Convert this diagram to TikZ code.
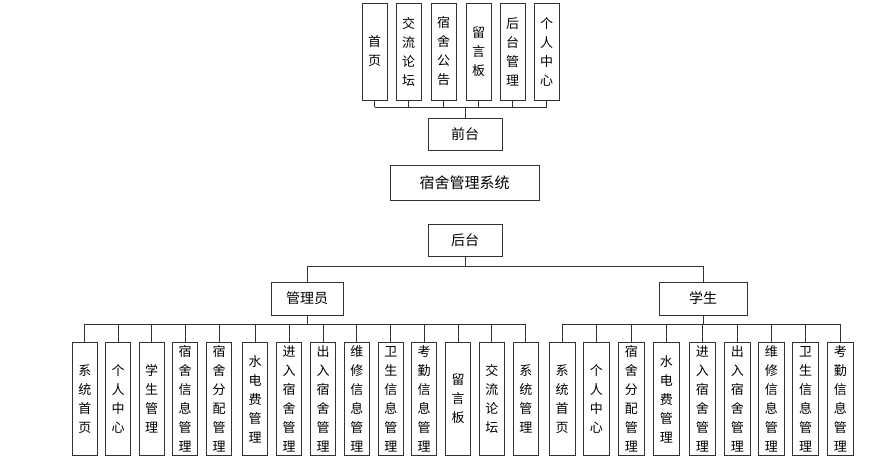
\documentclass[tikz,border=0pt]{standalone}
\usepackage{fontspec}
\newfontfamily\cjk{Noto Sans CJK SC}
\begin{document}
\begin{tikzpicture}[x=1pt,y=-1pt,
  box/.style={draw=black!80,line width=0.9pt,fill=white,inner sep=0pt,align=center,font=\cjk\fontsize{13}{19}\selectfont},
  leaf/.style={box,minimum width=25pt,minimum height=113pt},
  top/.style={box,minimum width=25pt,minimum height=97pt},
  conn/.style={draw=black!80,line width=0.9pt}]
\useasboundingbox (0,0) rectangle (870,456);
% top
\foreach \x/\t [count=\i] in {374.5/首\\页,408.5/交\\流\\论\\坛,443.5/宿\\舍\\公\\告,478.5/留\\言\\板,512.5/后\\台\\管\\理,546.5/个\\人\\中\\心}
  \node[top] (t\i) at (\x,51.5) {\t};
\node[box,minimum width=74pt,minimum height=32pt,font=\cjk\fontsize{14}{16}\selectfont] (qt) at (465,134) {前台};
\coordinate (tb) at (465,107);
\foreach \i in {1,...,6} \draw[conn] (t\i.south) -- (t\i.south |- tb);
\draw[conn] (t1.south |- tb) -- (t6.south |- tb);
\draw[conn] (tb) -- (qt.north);
\node[box,minimum width=149pt,minimum height=35pt,font=\cjk\fontsize{15}{17}\selectfont] (sys) at (464.5,182.5) {宿舍管理系统};
\node[box,minimum width=74pt,minimum height=32pt,font=\cjk\fontsize{14}{16}\selectfont] (ht) at (465,240) {后台};
\node[box,minimum width=72pt,minimum height=33pt,font=\cjk\fontsize{14}{16}\selectfont] (gly) at (307,298.5) {管理员};
\node[box,minimum width=88pt,minimum height=33pt,font=\cjk\fontsize{14}{16}\selectfont] (xs) at (703,298.5) {学生};
\coordinate (hb) at (465,266);
\draw[conn] (ht.south) -- (hb);
\draw[conn] (gly.north |- hb) -- (xs.north |- hb);
\draw[conn] (gly.north |- hb) -- (gly.north);
\draw[conn] (xs.north |- hb) -- (xs.north);
% admin leaves
\foreach \x/\t [count=\i] in {84.8/系\\统\\首\\页,118.2/个\\人\\中\\心,151.5/学\\生\\管\\理,185.2/宿\\舍\\信\\息\\管\\理,219.2/宿\\舍\\分\\配\\管\\理,255.2/水\\电\\费\\管\\理,289.2/进\\入\\宿\\舍\\管\\理,323.2/出\\入\\宿\\舍\\管\\理,356.8/维\\修\\信\\息\\管\\理,390.8/卫\\生\\信\\息\\管\\理,424.2/考\\勤\\信\\息\\管\\理,458.2/留\\言\\板,491.8/交\\流\\论\\坛,525.8/系\\统\\管\\理}
  \node[leaf] (a\i) at (\x,399) {\t};
\coordinate (ab) at (307,324);
\draw[conn] (gly.south) -- (ab);
\foreach \i in {1,...,14} \draw[conn] (a\i.north) -- (a\i.north |- ab);
\draw[conn] (a1.north |- ab) -- (a14.north |- ab);
% student leaves
\foreach \x/\t [count=\i] in {562/系\\统\\首\\页,596.3/个\\人\\中\\心,631.3/宿\\舍\\分\\配\\管\\理,666.3/水\\电\\费\\管\\理,702.3/进\\入\\宿\\舍\\管\\理,737.3/出\\入\\宿\\舍\\管\\理,771.3/维\\修\\信\\息\\管\\理,805.7/卫\\生\\信\\息\\管\\理,840.3/考\\勤\\信\\息\\管\\理}
  \node[leaf,minimum width=26pt] (s\i) at (\x,399) {\t};
\coordinate (sb) at (703,324);
\draw[conn] (xs.south) -- (sb);
\foreach \i in {1,...,9} \draw[conn] (s\i.north) -- (s\i.north |- sb);
\draw[conn] (s1.north |- sb) -- (s9.north |- sb);
\end{tikzpicture}
\end{document}
